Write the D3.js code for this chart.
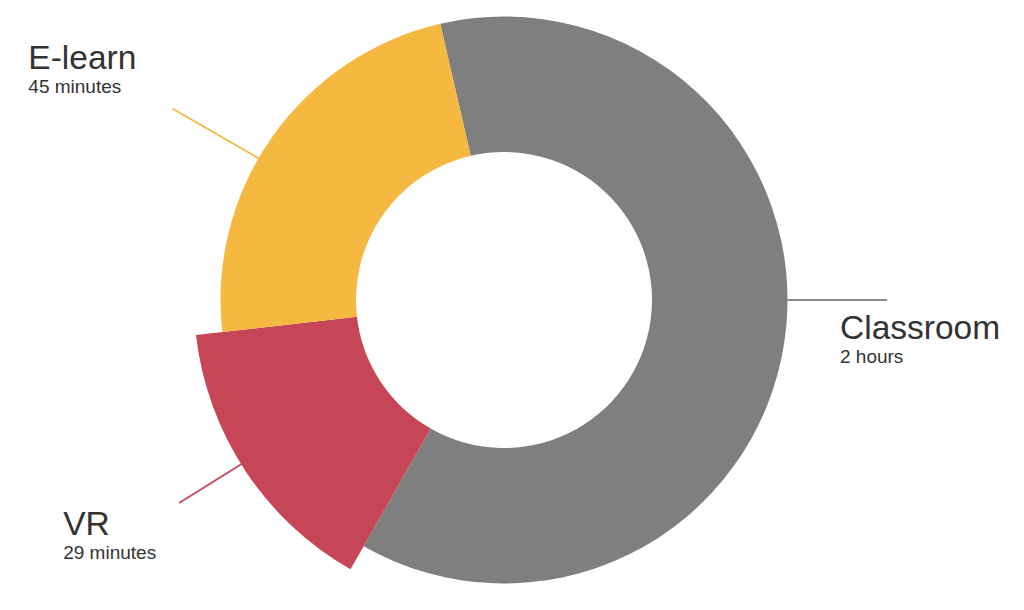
<!DOCTYPE html>
<html>
<head>
<meta charset="utf-8">
<script src="https://cdn.jsdelivr.net/npm/d3@7"></script>
<style>
  html, body { margin: 0; padding: 0; background: #ffffff; }
  svg { display: block; }
  text { font-family: "Liberation Sans", Arial, Helvetica, sans-serif; fill: #333333; }
</style>
</head>
<body>
<svg id="chart" width="1024" height="610"></svg>
<script>
// ---- data ----
const categories = ["Classroom", "VR", "E-learn"];
const minutes    = [120, 29, 45];
const valueLabels = ["2 hours", "29 minutes", "45 minutes"];
const colors     = ["#7f7f7f", "#c64657", "#f5b841"];
const lineColors = ["#8c8c8c", "#c64657", "#f5b841"];

// ---- layout ----
const W = 1024, H = 610;
const cx = 504, cy = 300;
const innerR = 148, outerR = 283.5, highlightR = 310;
const highlighted = "VR";
const leaderEndR = 383;
const startDeg = -13;
// leader angle (degrees, clockwise from top) and label offset from leader end
const labelLayout = {
  "Classroom": { angle: 90,  dx: -47,  dy: 39 },
  "VR":        { angle: 238, dx: -116, dy: 32 },
  "E-learn":   { angle: 300, dx: -144, dy: -40 }
};

const rows = categories.map((c, i) => ({ name: c, value: minutes[i], sub: valueLabels[i], color: colors[i], lineColor: lineColors[i] }));

const svg = d3.select("#chart");
const g = svg.append("g").attr("transform", `translate(${cx},${cy})`);

const toRad = d => d * Math.PI / 180;
const pie = d3.pie().sort(null).value(d => d.value)
  .startAngle(toRad(startDeg)).endAngle(toRad(startDeg) + 2 * Math.PI);
const arcs = pie(rows);

const arc = d3.arc()
  .innerRadius(innerR)
  .outerRadius(d => d.data.name === highlighted ? highlightR : outerR);

g.selectAll("path.slice").data(arcs).join("path")
  .attr("class", "slice")
  .attr("d", arc)
  .attr("fill", d => d.data.color);

// leaders
const polar = (angDeg, r) => [Math.sin(toRad(angDeg)) * r, -Math.cos(toRad(angDeg)) * r];
arcs.forEach(d => {
  const L = labelLayout[d.data.name];
  const r0 = d.data.name === highlighted ? highlightR : outerR;
  const p0 = polar(L.angle, r0 - 1);
  const p1 = polar(L.angle, leaderEndR);
  g.append("line")
    .attr("x1", p0[0]).attr("y1", p0[1])
    .attr("x2", p1[0]).attr("y2", p1[1])
    .attr("stroke", d.data.lineColor)
    .attr("stroke-width", 1.8);
  const tx = p1[0] + L.dx, ty = p1[1] + L.dy;
  g.append("text")
    .attr("x", tx).attr("y", ty)
    .attr("font-size", 33.5)
    .text(d.data.name);
  g.append("text")
    .attr("x", tx).attr("y", ty + 24)
    .attr("font-size", 19)
    .text(d.data.sub);
});
</script>
</body>
</html>
